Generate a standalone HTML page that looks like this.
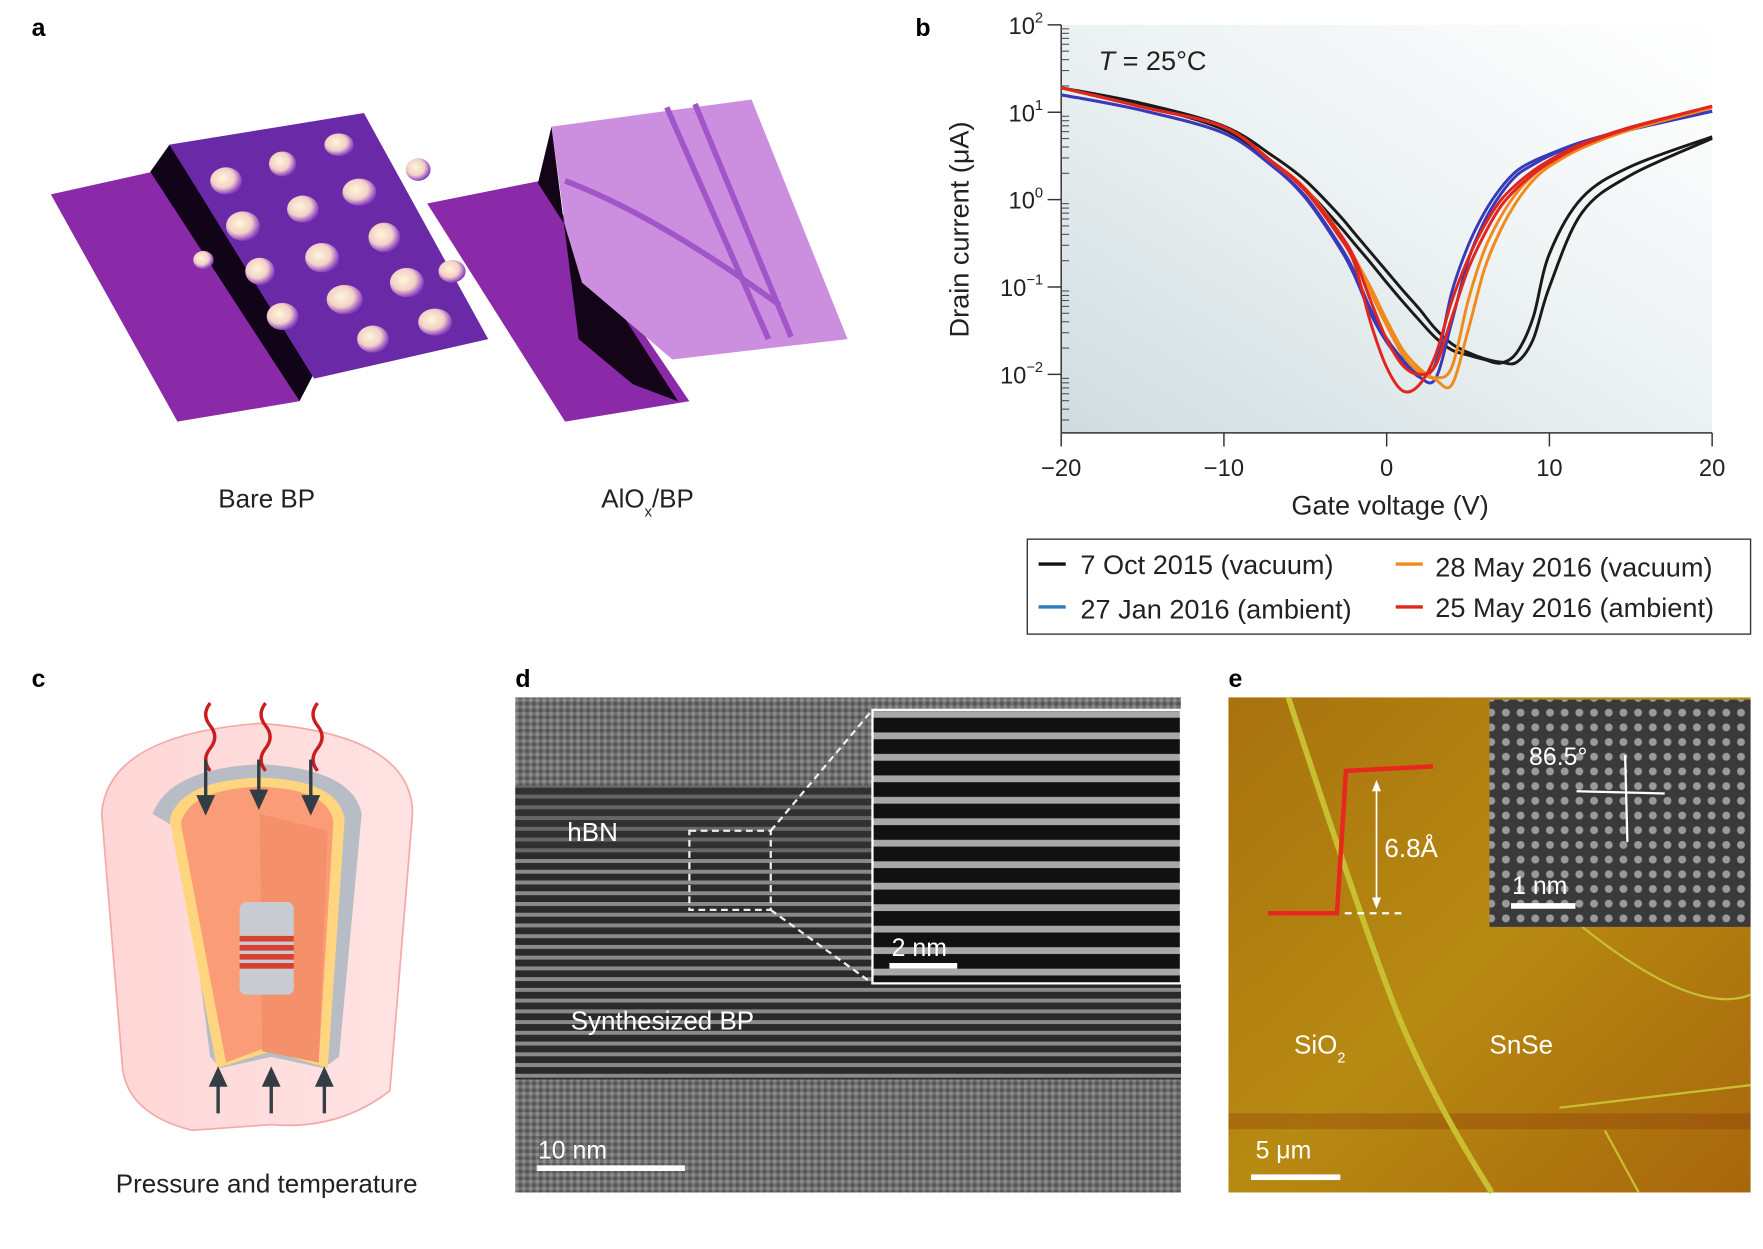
<!DOCTYPE html>
<html><head><meta charset="utf-8">
<style>
html,body{margin:0;padding:0;background:#fff;}
svg{display:block;font-family:"Liberation Sans",sans-serif;}
</style></head>
<body>
<svg id="fig" width="1763" height="1249" viewBox="0 0 1560 1105" preserveAspectRatio="none" xmlns="http://www.w3.org/2000/svg">
<defs>
  <linearGradient id="plotbg" x1="0" y1="1" x2="1" y2="0">
    <stop offset="0" stop-color="#cfdcdf"/><stop offset="0.55" stop-color="#eef3f4"/><stop offset="1" stop-color="#ffffff"/>
  </linearGradient>
  <radialGradient id="blob" cx="0.4" cy="0.4" r="0.6">
    <stop offset="0" stop-color="#fff6d8"/><stop offset="0.6" stop-color="#f2d0c8"/><stop offset="1" stop-color="#8a3fc0"/>
  </radialGradient>
  <linearGradient id="afm" x1="0" y1="0" x2="1" y2="1">
    <stop offset="0" stop-color="#a8720e"/><stop offset="0.5" stop-color="#b78a12"/><stop offset="1" stop-color="#a8660c"/>
  </linearGradient>
  <pattern id="stripes" width="8" height="9.5" patternUnits="userSpaceOnUse">
    <rect width="8" height="9.5" fill="#2a2a2a"/><rect y="0" width="8" height="3.5" fill="#8a8a8a"/>
  </pattern>
  <pattern id="stripes2" width="8" height="19" patternUnits="userSpaceOnUse">
    <rect width="8" height="19" fill="#111"/><rect y="2" width="8" height="6" fill="#a8a8a8"/>
  </pattern>
  <pattern id="noise" width="6" height="6" patternUnits="userSpaceOnUse">
    <rect width="6" height="6" fill="#6f6f6f"/><rect x="0" y="0" width="3" height="3" fill="#8c8c8c"/><rect x="3" y="3" width="3" height="3" fill="#555"/>
  </pattern>
  <pattern id="dots" width="13" height="13" patternUnits="userSpaceOnUse">
    <rect width="13" height="13" fill="#3a3a3a"/><circle cx="6.5" cy="6.5" r="3.5" fill="#9a9a9a"/>
  </pattern>
  <linearGradient id="cyl" x1="0" x2="1">
    <stop offset="0" stop-color="#ffd6d6"/><stop offset="1" stop-color="#ffe3e3"/>
  </linearGradient>
</defs>

<text x="28" y="32" font-size="22" font-weight="bold">a</text>
<text x="810" y="32" font-size="22" font-weight="bold">b</text>
<text x="28" y="608" font-size="22" font-weight="bold">c</text>
<text x="456" y="608" font-size="22" font-weight="bold">d</text>
<text x="1087" y="608" font-size="22" font-weight="bold">e</text>

<g>
  <polygon points="45,172 135,152 265,355 157,373" fill="#8a2aa8"/>
  <polygon points="133,152 150,128 278,330 265,355" fill="#120418"/>
  <polygon points="150,128 322,100 432,300 278,335" fill="#6a2aa8"/>
  <g fill="url(#blob)">
    <ellipse cx="200" cy="160" rx="14" ry="12"/><ellipse cx="250" cy="145" rx="12" ry="11"/><ellipse cx="300" cy="128" rx="13" ry="10"/>
    <ellipse cx="215" cy="200" rx="15" ry="13"/><ellipse cx="268" cy="185" rx="14" ry="12"/><ellipse cx="318" cy="170" rx="15" ry="12"/>
    <ellipse cx="230" cy="240" rx="13" ry="12"/><ellipse cx="285" cy="228" rx="15" ry="13"/><ellipse cx="340" cy="210" rx="14" ry="13"/>
    <ellipse cx="250" cy="280" rx="14" ry="12"/><ellipse cx="305" cy="265" rx="16" ry="13"/><ellipse cx="360" cy="250" rx="15" ry="13"/>
    <ellipse cx="330" cy="300" rx="14" ry="12"/><ellipse cx="385" cy="285" rx="15" ry="12"/><ellipse cx="400" cy="240" rx="12" ry="10"/>
    <ellipse cx="370" cy="150" rx="11" ry="10"/><ellipse cx="180" cy="230" rx="9" ry="8"/>
  </g>
</g>
<g>
  <polygon points="378,180 478,160 610,355 500,373" fill="#8a2aa8"/>
  <polygon points="476,162 488,112 512,300 560,340 600,355" fill="#140418"/>
  <polygon points="488,112 665,88 750,300 595,318 515,250 500,200" fill="#cc8fe0"/>
  <path d="M590,95 L680,300 M615,92 L700,298 M500,160 Q580,190 690,270" stroke="#a055c8" stroke-width="5" fill="none"/>
</g>
<text x="236" y="449" font-size="23" text-anchor="middle" fill="#222">Bare BP</text>
<text x="573" y="449" font-size="23" text-anchor="middle" fill="#222">AlO<tspan font-size="13" dy="8">x</tspan><tspan dy="-8">/BP</tspan></text>

<g id="chart">
  <rect x="939" y="22" width="576" height="361" fill="url(#plotbg)"/>
  <g id="axes"></g>
  <g id="series"></g>
  <text x="972" y="62" font-size="24" fill="#222"><tspan font-style="italic">T</tspan> = 25°C</text>
  <text x="1230" y="455" font-size="24" text-anchor="middle" fill="#222">Gate voltage (V)</text>
  <text transform="translate(857,203) rotate(-90)" font-size="24" text-anchor="middle" fill="#222">Drain current (μA)</text>
  <g>
    <rect x="909" y="477" width="640" height="84" fill="#fff" stroke="#333" stroke-width="1.2"/>
    <g><line x1="919" y1="499" x2="943" y2="499" stroke="#111" stroke-width="3"/><text x="956" y="508" font-size="24" fill="#222">7 Oct 2015 (vacuum)</text></g>
    <g><line x1="919" y1="537" x2="943" y2="537" stroke="#2b7bbf" stroke-width="3"/><text x="956" y="547" font-size="24" fill="#222">27 Jan 2016 (ambient)</text></g>
    <g><line x1="1235" y1="499" x2="1259" y2="499" stroke="#f08a1c" stroke-width="3"/><text x="1270" y="510" font-size="24" fill="#222">28 May 2016 (vacuum)</text></g>
    <g><line x1="1235" y1="537" x2="1259" y2="537" stroke="#e0261e" stroke-width="3"/><text x="1270" y="546" font-size="24" fill="#222">25 May 2016 (ambient)</text></g>
  </g>
</g>

<g>
  <path d="M90,720 Q95,650 230,640 Q365,650 365,720 L345,965 Q300,1000 240,995 L170,1000 Q110,985 108,940 Z" fill="url(#cyl)" stroke="#f4a9a9" stroke-width="1.5"/>
  <path d="M135,720 Q150,680 230,676 Q312,680 320,720 L300,935 L286,945 L240,935 L195,945 L186,935 L160,735 Z" fill="#b8bcc4"/>
  <path d="M150,725 Q160,690 230,688 Q300,690 305,725 L290,945 L240,930 L192,945 Z" fill="#ffd580"/>
  <path d="M160,728 Q168,698 230,696 Q292,698 295,728 L282,940 L240,925 L200,940 Z" fill="#fa9c78"/>
  <polygon points="230,720 290,735 282,940 232,930" fill="#f4906a"/>
  <rect x="212" y="798" width="48" height="82" rx="6" fill="#c8ccd2"/>
  <g fill="#d8402f"><rect x="212" y="828" width="48" height="5"/><rect x="212" y="836" width="48" height="5"/><rect x="212" y="844" width="48" height="5"/><rect x="212" y="852" width="48" height="5"/></g>
  <g stroke="#c81e1e" stroke-width="3" fill="none">
    <path d="M186,622 q-8,10 0,20 q8,10 0,20 q-8,10 0,20"/><path d="M235,622 q-8,10 0,20 q8,10 0,20 q-8,10 0,20"/><path d="M281,622 q-8,10 0,20 q8,10 0,20 q-8,10 0,20"/>
  </g>
  <g stroke="#333d44" stroke-width="3" fill="#333d44">
    <line x1="182" y1="672" x2="182" y2="712"/><polygon points="176,705 188,705 182,718"/>
    <line x1="229" y1="672" x2="229" y2="708"/><polygon points="223,700 235,700 229,713"/>
    <line x1="275" y1="672" x2="275" y2="712"/><polygon points="269,705 281,705 275,718"/>
    <line x1="193" y1="985" x2="193" y2="955"/><polygon points="187,960 199,960 193,947"/>
    <line x1="240" y1="985" x2="240" y2="955"/><polygon points="234,960 246,960 240,947"/>
    <line x1="287" y1="985" x2="287" y2="955"/><polygon points="281,960 293,960 287,947"/>
  </g>
</g>
<text x="236" y="1055" font-size="23" text-anchor="middle" fill="#222">Pressure and temperature</text>

<g>
  <rect x="456" y="617" width="589" height="438" fill="url(#noise)"/>
  <rect x="456" y="695" width="589" height="260" fill="url(#stripes)"/>
  <rect x="456" y="695" width="316" height="60" fill="#3a3a3a" opacity="0.45"/>
  <rect x="772" y="628" width="273" height="242" fill="url(#stripes2)" stroke="#fff" stroke-width="2"/>
  <rect x="610" y="735" width="72" height="70" fill="none" stroke="#eee" stroke-width="2" stroke-dasharray="6,4"/>
  <line x1="682" y1="735" x2="772" y2="628" stroke="#eee" stroke-width="2" stroke-dasharray="6,4"/>
  <line x1="682" y1="805" x2="772" y2="870" stroke="#eee" stroke-width="2" stroke-dasharray="6,4"/>
  <text x="502" y="744" font-size="23" fill="#fff">hBN</text>
  <text x="505" y="911" font-size="23" fill="#fff">Synthesized BP</text>
  <text x="789" y="846" font-size="22" fill="#fff">2 nm</text>
  <rect x="787" y="852" width="60" height="5" fill="#fff"/>
  <text x="476" y="1025" font-size="22" fill="#fff">10 nm</text>
  <rect x="475" y="1031" width="131" height="5" fill="#fff"/>
</g>

<g>
  <rect x="1087" y="617" width="462" height="438" fill="url(#afm)"/>
  <rect x="1087" y="985" width="462" height="14" fill="#8a3a0a" opacity="0.35"/>
  <path d="M1140,617 Q1200,800 1230,880 T1320,1055" stroke="#c8c030" stroke-width="5" fill="none"/>
  <path d="M1380,980 L1549,960 M1420,1000 L1450,1055 M1400,820 Q1500,900 1549,880" stroke="#c8c030" stroke-width="2" fill="none"/>
  <rect x="1318" y="619" width="231" height="201" fill="url(#dots)"/>
  <polyline points="1122,808 1183,808 1191,682 1268,678" stroke="#e8281e" stroke-width="4" fill="none"/>
  <line x1="1190" y1="808" x2="1245" y2="808" stroke="#fff" stroke-width="2" stroke-dasharray="6,5"/>
  <line x1="1218" y1="694" x2="1218" y2="800" stroke="#fff" stroke-width="1.5"/>
  <polygon points="1214,700 1222,700 1218,690" fill="#fff"/><polygon points="1214,794 1222,794 1218,804" fill="#fff"/>
  <text x="1225" y="758" font-size="23" fill="#fff">6.8Å</text>
  <text x="1353" y="677" font-size="22" fill="#fff">86.5°</text>
  <line x1="1438" y1="668" x2="1440" y2="745" stroke="#fff" stroke-width="2"/>
  <line x1="1395" y1="700" x2="1473" y2="702" stroke="#fff" stroke-width="2"/>
  <text x="1338" y="791" font-size="22" fill="#fff">1 nm</text>
  <rect x="1337" y="799" width="57" height="5" fill="#fff"/>
  <text x="1145" y="932" font-size="23" fill="#fff">SiO<tspan font-size="13" dy="8">2</tspan></text>
  <text x="1318" y="932" font-size="23" fill="#fff">SnSe</text>
  <text x="1111" y="1025" font-size="22" fill="#fff">5 μm</text>
  <rect x="1107" y="1039" width="79" height="5" fill="#fff"/>
</g>
</svg>

<script>
const voltages = [-20,-15,-10,-7,-5,-3,-2,-1,0,1,2,3,4,5,6,7,8,9,10,12,15,20];
const xTicks = [-20,-10,0,10,20];
const xTickLabels = ["\u221220","\u221210","0","10","20"];
const yTickExps = [2,1,0,-1,-2];
const octA = [1.28,1.08,0.80,0.42,0.12,-0.28,-0.50,-0.72,-0.95,-1.17,-1.38,-1.58,-1.72,-1.78,-1.83,-1.87,-1.75,-1.35,-0.62,0.02,0.38,0.72];
const octB = [1.28,1.10,0.84,0.50,0.22,-0.16,-0.38,-0.60,-0.82,-1.04,-1.25,-1.48,-1.65,-1.75,-1.82,-1.86,-1.86,-1.60,-1.00,-0.15,0.28,0.70];
const janA = [1.20,1.02,0.76,0.38,0.04,-0.49,-0.82,-1.25,-1.59,-1.83,-2.00,-1.88,-1.06,-0.53,-0.15,0.13,0.33,0.44,0.52,0.66,0.81,1.01];
const janB = [1.20,1.02,0.76,0.38,0.02,-0.52,-0.86,-1.30,-1.63,-1.86,-2.03,-2.05,-1.40,-0.70,-0.25,0.06,0.28,0.40,0.50,0.65,0.80,1.01];
const mayVacA = [1.28,1.06,0.83,0.42,0.11,-0.39,-0.70,-1.06,-1.44,-1.78,-1.97,-2.04,-1.92,-1.16,-0.58,-0.20,0.08,0.28,0.42,0.61,0.81,1.05];
const mayVacB = [1.28,1.06,0.83,0.43,0.13,-0.35,-0.66,-1.00,-1.38,-1.72,-1.93,-2.06,-2.12,-1.50,-0.80,-0.35,-0.02,0.22,0.38,0.59,0.80,1.05];
const mayAmbA = [1.28,1.06,0.83,0.42,0.10,-0.40,-0.72,-1.40,-1.92,-2.19,-2.12,-1.78,-1.16,-0.68,-0.30,-0.01,0.18,0.33,0.45,0.64,0.83,1.07];
const mayAmbB = [1.28,1.06,0.83,0.43,0.12,-0.36,-0.66,-1.15,-1.60,-1.90,-2.00,-1.90,-1.35,-0.80,-0.40,-0.08,0.13,0.29,0.42,0.62,0.82,1.07];

const X0=939, X1=1515, Y0=22, DEC=77.3, YB=383;
function xs(v){ return X0 + (v+20)/40*(X1-X0); }
function ys(l){ return Y0 + (2-l)*DEC; }
const NS='http://www.w3.org/2000/svg';
function mk(tag, attrs, parent){ const e=document.createElementNS(NS,tag); for(const k in attrs) e.setAttribute(k,attrs[k]); parent.appendChild(e); return e; }

const axes=document.getElementById('axes');
const yAxis=mk('line',{x1:X0,y1:Y0,x2:X0,y2:YB,stroke:'#333','stroke-width':1.3},axes);


const xAxis=mk('line',{x1:X0,y1:YB,x2:X1,y2:YB,stroke:'#333','stroke-width':1.3},axes);


xTicks.forEach((v,i)=>{
  const t=mk('line',{x1:xs(v),y1:YB,x2:xs(v),y2:YB+12,stroke:'#333','stroke-width':1.3},axes);
  
  
  const lb=mk('text',{x:xs(v),y:YB+38,'font-size':21,'text-anchor':'middle',fill:'#222'},axes);
  lb.textContent=xTickLabels[i];
  
  
});
yTickExps.forEach(e=>{
  const y=ys(e);
  const t=mk('line',{x1:X0-12,y1:y,x2:X0,y2:y,stroke:'#333','stroke-width':1.3},axes);
  
  
  const lb=mk('text',{x:X0-16,y:y+8,'font-size':21,'text-anchor':'end',fill:'#222'},axes);
  lb.textContent='10';
  const sup=mk('tspan',{'font-size':13,dy:-10},lb);
  sup.textContent=String(e).replace('-','\u2212');
  
  
});
for(let e=-3;e<2;e++){ for(let m=2;m<10;m++){ const l=e+Math.log10(m); const y=ys(l); if(y>YB) continue;
  const t=mk('line',{x1:X0,y1:y,x2:X0+7,y2:y,stroke:'#555','stroke-width':1},axes);
  
  
}}

const ser=document.getElementById('series');
const series=[
  {name:'series-oct-2015-forward',d:octA,c:'#1a1a1a'},{name:'series-oct-2015-reverse',d:octB,c:'#1a1a1a'},
  {name:'series-jan-2016-forward',d:janA,c:'#3a3ab8'},{name:'series-jan-2016-reverse',d:janB,c:'#3a3ab8'},
  {name:'series-may28-2016-forward',d:mayVacA,c:'#f08a1c'},{name:'series-may28-2016-reverse',d:mayVacB,c:'#f08a1c'},
  {name:'series-may25-2016-forward',d:mayAmbA,c:'#e0261e'},{name:'series-may25-2016-reverse',d:mayAmbB,c:'#e0261e'}
];
series.forEach(s=>{
  const pts=voltages.map((v,i)=>[xs(v),ys(s.d[i])]);
  let d='M'+pts[0][0]+','+pts[0][1];
  for(let i=0;i<pts.length-1;i++){
    const p0=pts[i-1]||pts[i], p1=pts[i], p2=pts[i+1], p3=pts[i+2]||p2;
    const c1=[p1[0]+(p2[0]-p0[0])/6, p1[1]+(p2[1]-p0[1])/6];
    const c2=[p2[0]-(p3[0]-p1[0])/6, p2[1]-(p3[1]-p1[1])/6];
    d+=' C'+c1[0]+','+c1[1]+' '+c2[0]+','+c2[1]+' '+p2[0]+','+p2[1];
  }
  const p=mk('path',{d:d,fill:'none',stroke:s.c,'stroke-width':2.6},ser);
  
  
});
</script>
</body></html>
